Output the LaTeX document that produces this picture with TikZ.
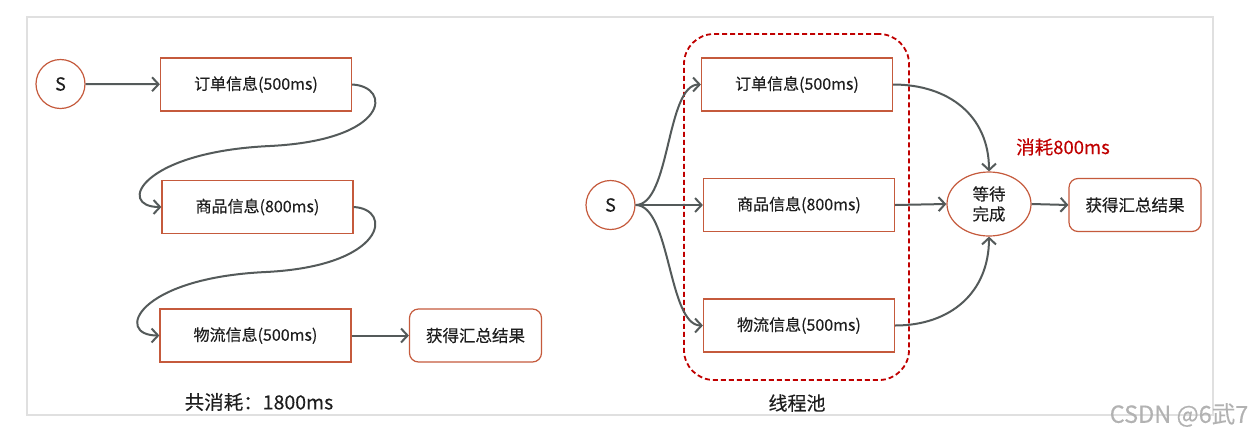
\documentclass[tikz,border=0pt]{standalone}
\usepackage{fontspec}
\setmainfont{Noto Sans CJK SC}[FakeBold=0.25]
\usetikzlibrary{arrows.meta,shapes.geometric}

\definecolor{boxred}{RGB}{197,90,60}
\definecolor{linegray}{RGB}{84,90,90}
\definecolor{poolred}{RGB}{192,0,0}
\definecolor{cardgray}{RGB}{224,224,224}
\definecolor{textgray}{RGB}{30,30,30}

\tikzset{
  box/.style={draw=boxred, line width=1.2pt, minimum width=191pt, minimum height=53pt,
    inner sep=0pt, text=textgray, font=\fontsize{16}{19}\selectfont},
  resultbox/.style={box, rounded corners=9pt, minimum width=132pt, font=\fontsize{16.5}{20}\selectfont},
  startnode/.style={circle, draw=boxred, line width=1.2pt, minimum size=49pt, inner sep=0pt,
    text=textgray, font=\fontsize{18}{20}\selectfont},
  waitnode/.style={ellipse, draw=boxred, line width=1.2pt, minimum width=84pt, minimum height=64pt,
    inner sep=0pt, align=center, text=textgray, font=\fontsize{16.5}{20}\selectfont},
  flow/.style={draw=linegray, line width=2pt, -{Straight Barb[length=6.5pt,width=14pt,line width=2pt]}},
}

\begin{document}
\begin{tikzpicture}[x=1pt, y=-1pt]
        \useasboundingbox (0,0) rectangle (1255,437);
        % ==== CARD ====
        \draw[cardgray, line width=2pt, fill=white] (27,17) rectangle (1213,415);

        % ==== LEFT: ONE AFTER ANOTHER ====
        \node[startnode] (s1) at (60.5,84) {S};
        \node[box] (l1) at (256,84.5) {订单信息(500ms)};
        \node[box] (l2) at (257.5,207) {商品信息(800ms)};
        \node[box] (l3) at (255.5,335.5) {物流信息(500ms)};
        \node[resultbox] (lres) at (475.5,335.5) {获得汇总结果};
        \coordinate (m1) at (270,146);
        \coordinate (m2) at (266,272);
        \draw[flow] (s1) -- (l1);
        \draw[flow] (l1.east) .. controls +(40,2) and +(120,-6) .. (m1)
            .. controls +(-130,6) and +(-45,0) .. (l2.west);
        \draw[flow] (l2.east) .. controls +(40,2) and +(120,-6) .. (m2)
            .. controls +(-130,6) and +(-45,0) .. (l3.west);
        \draw[flow] (l3) -- (lres);
        \node[text=textgray, font=\fontsize{19.5}{22}\selectfont] (total) at (259,402) {共消耗：1800ms};

        % ==== RIGHT: THREAD POOL ====
        \node[draw=poolred, line width=1.8pt, dash pattern=on 5pt off 3pt, rounded corners=30pt,
            minimum width=225pt, minimum height=346pt] (pool) at (796.5,207) {};
        \node[text=textgray, font=\fontsize{19}{22}\selectfont] (poollabel) at (797,403) {线程池};
        \node[startnode] (s2) at (610.5,205) {S};
        \node[box] (r1) at (797,84.5) {订单信息(500ms)};
        \node[box] (r2) at (799,205) {商品信息(800ms)};
        \node[box] (r3) at (799,325.5) {物流信息(500ms)};
        \node[waitnode] (wait) at (989,204) {等待\\完成};
        \node[resultbox] (rres) at (1135,205) {获得汇总结果};
        \draw[flow] (s2.east) .. controls +(35,0) and +(-35,0) .. (r1.west);
        \draw[flow] (s2.east) -- (r2.west);
        \draw[flow] (s2.east) .. controls +(35,0) and +(-35,0) .. (r3.west);
        \draw[flow] (r1.east) to[out=0, in=90, looseness=1.1] (wait.north);
        \draw[flow] (r2.east) -- (wait.west);
        \draw[flow] (r3.east) to[out=0, in=-90, looseness=1.1] (wait.south);
        \draw[flow] (wait.east) -- (rres.west);
        \node[text=poolred, font=\fontsize{18.5}{22}\selectfont] (cost) at (1063,147) {消耗800ms};

        % ==== WATERMARK ====
        \node[text=gray!60, font=\fontsize{23.5}{26}\selectfont] (mark) at (1179,415) {CSDN @6武7};
\end{tikzpicture}
\end{document}
